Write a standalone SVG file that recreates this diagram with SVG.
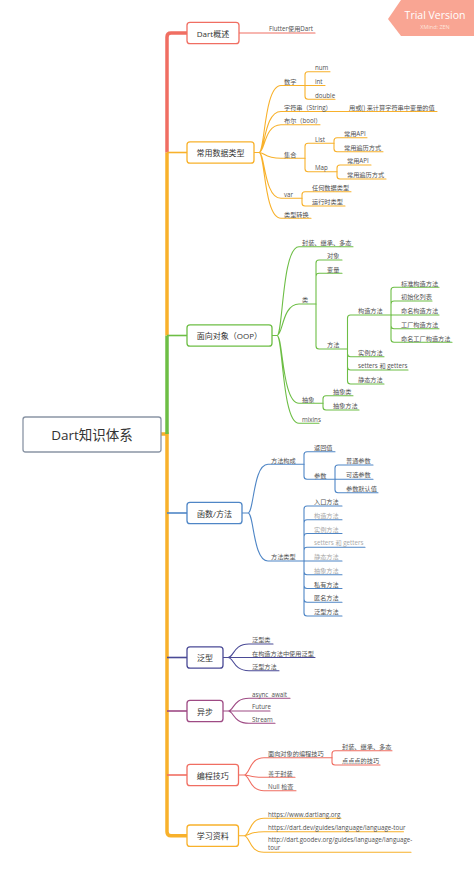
<svg xmlns="http://www.w3.org/2000/svg" width="474" height="875" viewBox="0 0 474 875">
<style>
.t{font-family:"Open Sans","Noto Sans CJK SC",sans-serif;font-size:6.2px;fill:#505050}
.g{fill:#a8a8a8}
.n{font-family:"Open Sans","Noto Sans CJK SC",sans-serif;font-size:8px;fill:#333;text-anchor:middle;dominant-baseline:central}
.rt{font-size:13.5px}
.box{fill:#fff;stroke-width:1.3}
.ln{fill:none;stroke-width:1.1;stroke-linecap:round}
.tr{fill:none;stroke-width:3.5}
.st{fill:none;stroke-width:1.6}
.red{stroke:#F06E62}.org{stroke:#F8B12B}.grn{stroke:#6DBE45}.blu{stroke:#4F86C6}.nav{stroke:#4A4A96}.plm{stroke:#9E4A84}
</style>
<rect width="474" height="875" fill="#fff"/>
<g id="banner">
<polygon points="401,0 388,19 401,36 474,36 474,0" fill="#F9A593"/>
<text x="435" y="19" font-family="Open Sans,sans-serif" font-size="10.5" fill="#fff" text-anchor="middle">Trial Version</text>
<text x="435" y="28.5" font-family="Open Sans,sans-serif" font-size="5.5" fill="#fde4dc" text-anchor="middle">XMind: ZEN</text>
</g>
<g id="connectors">
<path class="tr org" d="M161 434H167V831.7Q167 835.7 171 835.7H187"/>
<path class="tr grn" d="M167 335.5V434"/>
<path class="tr org" d="M167 152.5V335.5"/>
<path class="tr red" d="M187 33H171Q167 33 167 37V152.5"/>
<path class="st org" d="M167 152.5H187"/>
<path class="st grn" d="M167 335.5H187"/>
<path class="st blu" d="M167 513H187"/>
<path class="st nav" d="M167 657.5H187"/>
<path class="st plm" d="M167 711H187"/>
<path class="st red" d="M167 775H187"/>
<path class="ln red" d="M239 33H315"/>
<path class="ln org" d="M254 152.5H259C265 152.5 264 85.5 281 85.5H305M259 152.5C265 152.5 264 111.5 281 111.5H437M259 152.5C265 152.5 264 124.7 281 124.7H320M259 152.5C265 152.5 264 158.3 281 158.3H305M259 152.5C265 152.5 264 198.3 281 198.3H302M259 152.5C265 152.5 264 218.3 281 218.3H311"/>
<path class="ln org" d="M305 85.5V74.7Q305 71.7 308 71.7H330M305 85.5H325M305 85.5V96.3Q305 99.3 308 99.3H335"/>
<path class="ln org" d="M305 158.3V146.3Q305 143.3 308 143.3H334M305 158.3V168.7Q305 171.7 308 171.7H337"/>
<path class="ln org" d="M334 143.3V140.7Q334 137.7 337 137.7H367M334 143.3V148.7Q334 151.7 337 151.7H383"/>
<path class="ln org" d="M337 171.7V168Q337 165 340 165H371M337 171.7V176Q337 179 340 179H386"/>
<path class="ln org" d="M302 198.3V194.7Q302 191.7 305 191.7H351M302 198.3V203Q302 206 305 206H345"/>
<path class="ln grn" d="M272 335.5H277C283 335.5 282 246.7 299 246.7H353M277 335.5C283 335.5 282 304 299 304H316M277 335.5C283 335.5 282 403.3 299 403.3H323M277 335.5C283 335.5 282 423.3 299 423.3H319"/>
<path class="ln grn" d="M316 304V263Q316 260 319 260H342M316 304V276.3Q316 273.3 319 273.3H342M316 304V346Q316 349 319 349H347.5"/>
<path class="ln grn" d="M347.5 349V318Q347.5 315 350.5 315H391M347.5 349V353.7Q347.5 356.7 350.5 356.7H384M347.5 349V367Q347.5 370 350.5 370H408M347.5 349V381Q347.5 384 350.5 384H384"/>
<path class="ln grn" d="M391 315V290.3Q391 287.3 394 287.3H439M391 315V304Q391 301 394 301H432M391 315H439M391 315V325.7Q391 328.7 394 328.7H439M391 315V339.3Q391 342.3 394 342.3H452"/>
<path class="ln grn" d="M323 403.3V398.7Q323 395.7 326 395.7H353M323 403.3V407Q323 410 326 410H359"/>
<path class="ln blu" d="M242 513H248C254 513 253 464.3 268 464.3H304M248 513C254 513 253 561 268 561H304"/>
<path class="ln blu" d="M304 464.3V454.7Q304 451.7 307 451.7H335M304 464.3V476.3Q304 479.3 307 479.3H335"/>
<path class="ln blu" d="M335 479.3V468Q335 465 338 465H373M335 479.3H373M335 479.3V489.7Q335 492.7 338 492.7H378"/>
<path class="ln blu" d="M304 561V509Q304 506 307 506H342M304 561V522.75Q304 519.75 307 519.75H342M304 561V536.5Q304 533.5 307 533.5H342M304 561V550.25Q304 547.25 307 547.25H365M304 561H342M304 561V571.75Q304 574.75 307 574.75H342M304 561V585.5Q304 588.5 307 588.5H342M304 561V599.25Q304 602.25 307 602.25H342M304 561V613Q304 616 307 616H342"/>
<path class="ln nav" d="M223 657.5H228C234 657.5 233 644 249 644H273M228 657.5H315M228 657.5C234 657.5 233 670.7 249 670.7H279"/>
<path class="ln plm" d="M223 711H228C234 711 233 698.3 249 698.3H290M228 711H270M228 711C234 711 233 723.3 249 723.3H275"/>
<path class="ln red" d="M238.5 775H244C250 775 249 757.7 264 757.7H332M244 775C250 775 249 777.3 264 777.3H295M244 775C250 775 249 790.7 264 790.7H296"/>
<path class="ln red" d="M332 757.7V753.7Q332 750.7 335 750.7H392M332 757.7V762Q332 765 335 765H380"/>
<path class="ln org" d="M238.5 835.7H244C250 835.7 249 818.3 264 818.3H341M244 835.7C250 835.7 249 831.7 264 831.7H403.5M244 835.7C250 835.7 249 852.3 264 852.3H411"/>
</g>
<g id="root"><rect class="box" x="23" y="417" width="138" height="35" rx="2.5" stroke="#8A95A5" stroke-width="1"/><text class="n rt" x="92" y="434.5">Dart知识体系</text></g>
<g id="n-overview"><rect class="box red" x="187" y="22.3" width="52" height="21.4" rx="3"/><text class="n" x="213" y="33">Dart概述</text></g>
<g id="n-types"><rect class="box org" x="187" y="141.8" width="67" height="21.4" rx="3"/><text class="n" x="220.5" y="152.5">常用数据类型</text></g>
<g id="n-oop"><rect class="box grn" x="187" y="324.8" width="85" height="21.4" rx="3"/><text class="n" x="229.5" y="335.5">面向对象（OOP）</text></g>
<g id="n-func"><rect class="box blu" x="187" y="502.3" width="55" height="21.4" rx="3"/><text class="n" x="214.5" y="513">函数/方法</text></g>
<g id="n-generic"><rect class="box nav" x="187" y="646.8" width="36" height="21.4" rx="3"/><text class="n" x="205" y="657.5">泛型</text></g>
<g id="n-async"><rect class="box plm" x="187" y="700.3" width="36" height="21.4" rx="3"/><text class="n" x="205" y="711">异步</text></g>
<g id="n-tips"><rect class="box red" x="187" y="764.3" width="51.5" height="21.4" rx="3"/><text class="n" x="212.7" y="775">编程技巧</text></g>
<g id="n-res"><rect class="box org" x="187" y="825" width="51.5" height="21.4" rx="3"/><text class="n" x="212.7" y="835.7">学习资料</text></g>
<g id="labels">
<text class="t" x="269" y="31.2">Flutter使用Dart</text>
<text class="t" x="284" y="83.7">数字</text>
<text class="t" x="315" y="69.9">num</text>
<text class="t" x="315" y="83.7">int</text>
<text class="t" x="315" y="97.5">double</text>
<text class="t" x="284" y="109.7">字符串（String）</text>
<text class="t" x="349" y="109.7">用或() 来计算字符串中变量的值</text>
<text class="t" x="284" y="122.9">布尔（bool）</text>
<text class="t" x="284" y="156.5">集合</text>
<text class="t" x="315" y="141.5">List</text>
<text class="t" x="344" y="135.9">常用API</text>
<text class="t" x="344" y="149.9">常用遍历方式</text>
<text class="t" x="315" y="169.9">Map</text>
<text class="t" x="347" y="163.2">常用API</text>
<text class="t" x="347" y="177.2">常用遍历方式</text>
<text class="t" x="284" y="196.5">var</text>
<text class="t" x="312" y="189.9">任何数据类型</text>
<text class="t" x="312" y="204.2">运行时类型</text>
<text class="t" x="284" y="216.5">类型转换</text>
<text class="t" x="302" y="244.9">封装、继承、多态</text>
<text class="t" x="302" y="302.2">类</text>
<text class="t" x="327" y="258.2">对象</text>
<text class="t" x="327" y="271.5">变量</text>
<text class="t" x="327" y="347.2">方法</text>
<text class="t" x="358" y="313.2">构造方法</text>
<text class="t" x="401" y="285.5">标准构造方法</text>
<text class="t" x="401" y="299.2">初始化列表</text>
<text class="t" x="401" y="313.2">命名构造方法</text>
<text class="t" x="401" y="326.9">工厂构造方法</text>
<text class="t" x="401" y="340.5">命名工厂构造方法</text>
<text class="t" x="358" y="354.9">实例方法</text>
<text class="t" x="358" y="368.2">setters 和 getters</text>
<text class="t" x="358" y="382.2">静态方法</text>
<text class="t" x="302" y="401.5">抽象</text>
<text class="t" x="333" y="393.9">抽象类</text>
<text class="t" x="333" y="408.2">抽象方法</text>
<text class="t" x="302" y="421.5">mixins</text>
<text class="t" x="271" y="462.5">方法构成</text>
<text class="t" x="314" y="449.9">返回值</text>
<text class="t" x="314" y="477.5">参数</text>
<text class="t" x="346" y="463.2">普通参数</text>
<text class="t" x="346" y="477.2">可选参数</text>
<text class="t" x="346" y="490.9">参数默认值</text>
<text class="t" x="271" y="559.2">方法类型</text>
<text class="t" x="314" y="504.2">入口方法</text>
<text class="t g" x="314" y="517.95">构造方法</text>
<text class="t g" x="314" y="531.7">实例方法</text>
<text class="t g" x="314" y="545.45">setters 和 getters</text>
<text class="t g" x="314" y="559.2">静态方法</text>
<text class="t g" x="314" y="572.95">抽象方法</text>
<text class="t" x="314" y="586.7">私有方法</text>
<text class="t" x="314" y="600.45">匿名方法</text>
<text class="t" x="314" y="614.2">泛型方法</text>
<text class="t" x="252" y="642.2">泛型类</text>
<text class="t" x="252" y="655.7">在构造方法中使用泛型</text>
<text class="t" x="252" y="668.9">泛型方法</text>
<text class="t" x="252" y="696.5">async&#160; await</text>
<text class="t" x="252" y="709.2">Future</text>
<text class="t" x="252" y="721.5">Stream</text>
<text class="t" x="268" y="755.9">面向对象的编程技巧</text>
<text class="t" x="342" y="748.9">封装、继承、多态</text>
<text class="t" x="342" y="763.2">点点点的技巧</text>
<text class="t" x="268" y="775.5">善于封装</text>
<text class="t" x="268" y="788.9">Null 检查</text>
<text class="t" x="268" y="816.5">https://www.dartlang.org</text>
<text class="t" x="268" y="829.9">https://dart.dev/guides/language/language-tour</text>
<text class="t" x="268" y="842.3">http://dart.goodev.org/guides/language/language-</text>
<text class="t" x="268" y="850">tour</text>
</g>
</svg>
